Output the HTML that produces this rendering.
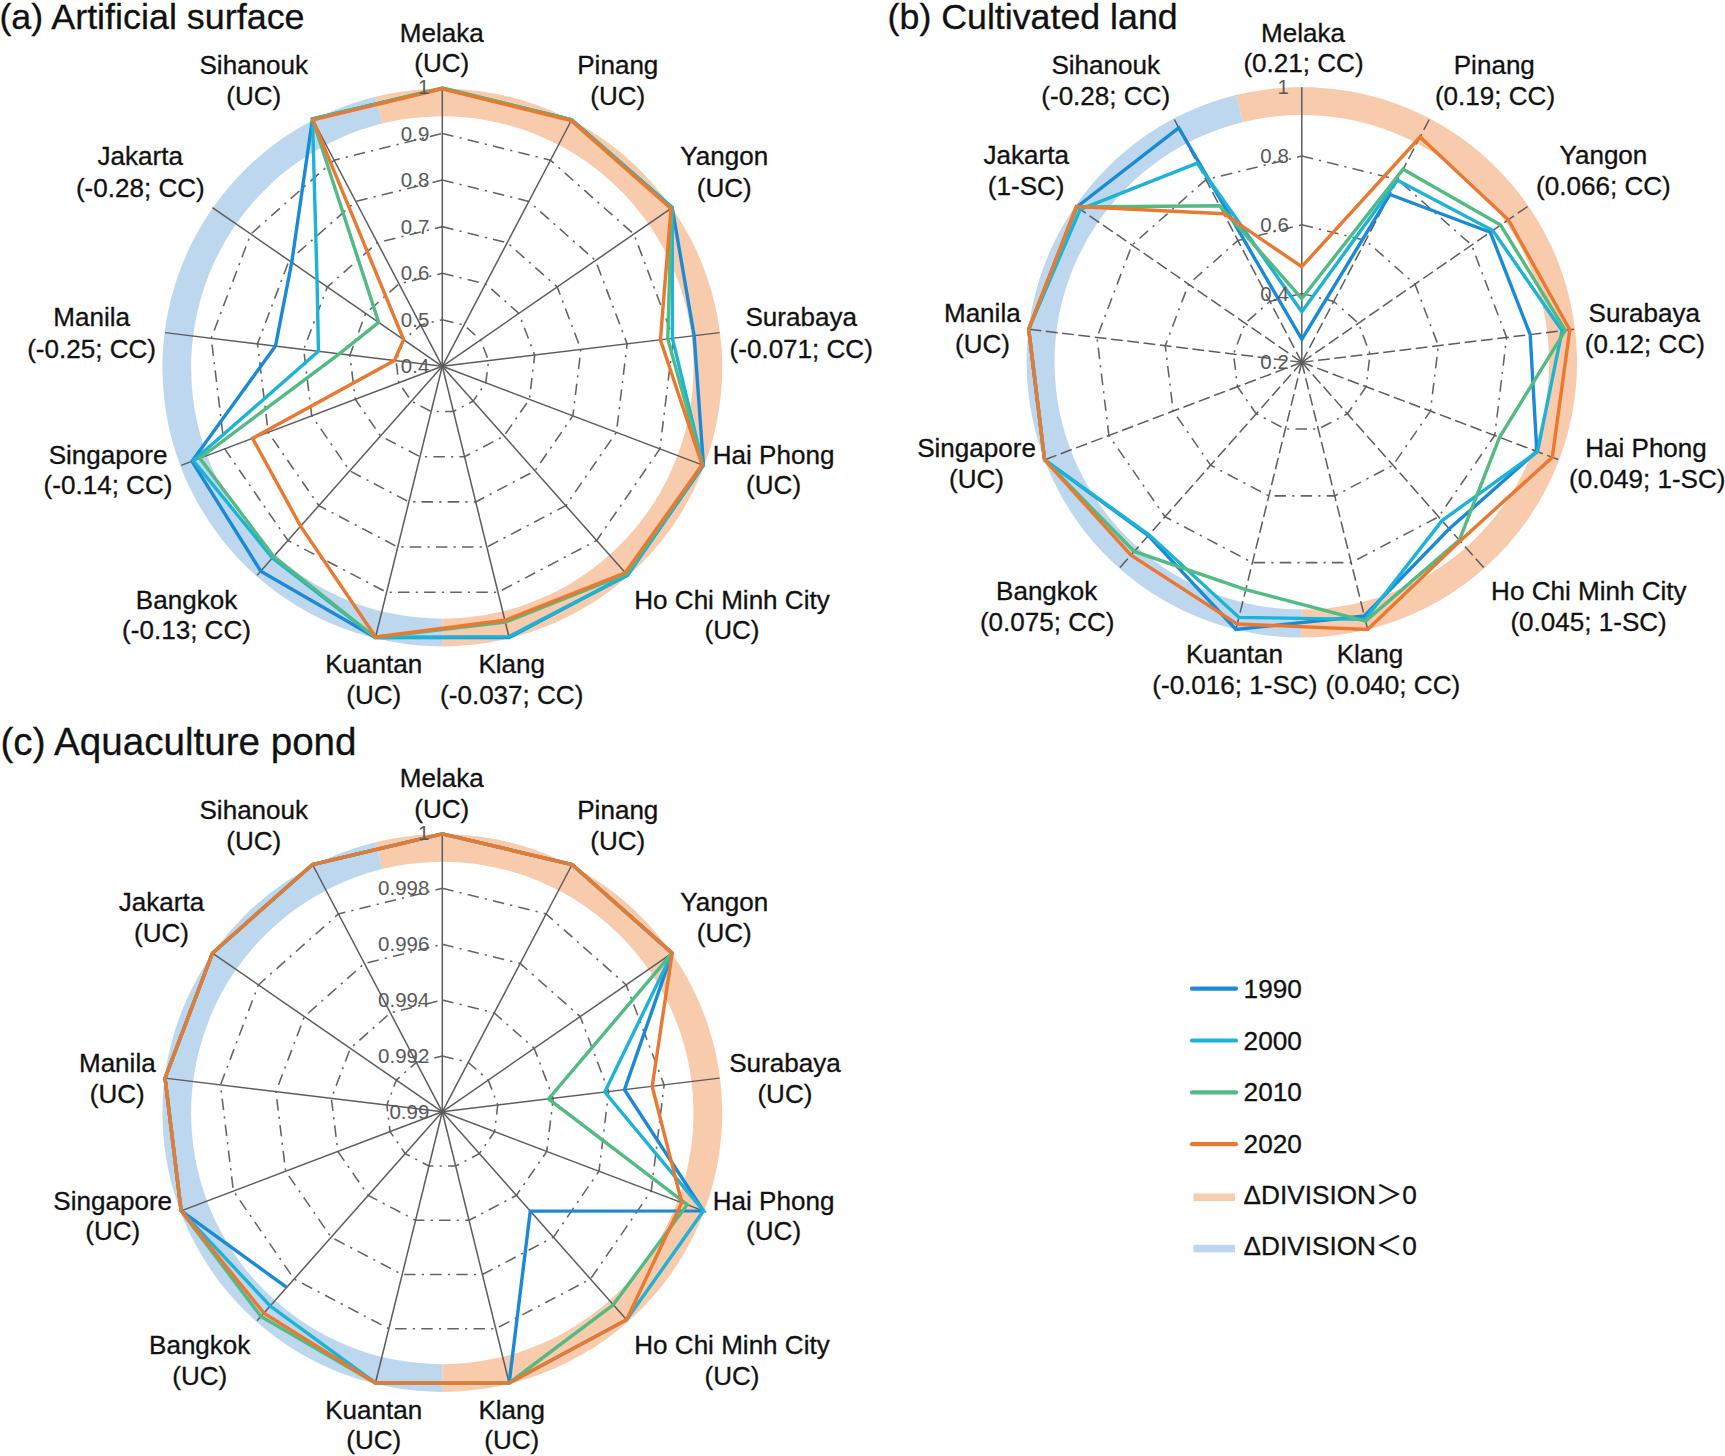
<!DOCTYPE html>
<html><head><meta charset="utf-8"><title>Radar charts</title>
<style>
html,body{margin:0;padding:0;background:#fff;}
svg{display:block;}
text{font-family:"Liberation Sans","Noto Sans CJK SC",sans-serif;}
.lb{fill:#111;stroke:#111;stroke-width:0.3px;}
</style></head>
<body>
<svg width="1725" height="1456" viewBox="0 0 1725 1456">
<rect width="1725" height="1456" fill="#ffffff"/>
<path d="M375.54,96.65 A279.90,278.90 0 1 1 442.30,646.40 L442.30,618.70 A251.20,251.20 0 1 0 382.18,123.60 Z" fill="#F8CBAD"/>
<path d="M442.30,646.40 A279.90,278.90 0 0 1 375.54,96.65 L382.18,123.60 A251.20,251.20 0 0 0 442.30,618.70 Z" fill="#BDD7EE"/>
<polygon points="442.30,319.75 463.93,325.08 480.61,339.86 488.51,360.69 485.83,382.81 473.17,401.14 453.44,411.50 431.16,411.50 411.43,401.14 398.77,382.81 396.09,360.69 403.99,339.86 420.67,325.08" fill="none" stroke="#636363" stroke-width="1.55" stroke-dasharray="11.5 6.2 2.2 6.2"/>
<polygon points="442.30,273.20 485.57,283.86 518.92,313.41 534.72,355.08 529.35,399.31 504.04,435.99 464.58,456.69 420.02,456.69 380.56,435.99 355.25,399.31 349.88,355.08 365.68,313.41 399.03,283.86" fill="none" stroke="#636363" stroke-width="1.55" stroke-dasharray="11.5 6.2 2.2 6.2"/>
<polygon points="442.30,226.65 507.20,242.65 557.23,286.97 580.93,349.47 572.88,415.82 534.91,470.83 475.72,501.89 408.88,501.89 349.69,470.83 311.72,415.82 303.67,349.47 327.37,286.97 377.40,242.65" fill="none" stroke="#636363" stroke-width="1.55" stroke-dasharray="11.5 6.2 2.2 6.2"/>
<polygon points="442.30,180.10 528.83,201.43 595.54,260.53 627.14,343.86 616.40,432.33 565.77,505.67 486.86,547.09 397.74,547.09 318.83,505.67 268.20,432.33 257.46,343.86 289.06,260.53 355.77,201.43" fill="none" stroke="#636363" stroke-width="1.55" stroke-dasharray="11.5 6.2 2.2 6.2"/>
<polygon points="442.30,133.55 550.46,160.21 633.85,234.08 673.35,338.25 659.93,448.83 596.64,540.52 498.00,592.29 386.60,592.29 287.96,540.52 224.67,448.83 211.25,338.25 250.75,234.08 334.14,160.21" fill="none" stroke="#636363" stroke-width="1.55" stroke-dasharray="11.5 6.2 2.2 6.2"/>
<line x1="442.30" y1="366.30" x2="442.30" y2="87.00" stroke="#5c5c5c" stroke-width="1.5"/>
<line x1="442.30" y1="366.30" x2="572.10" y2="118.99" stroke="#5c5c5c" stroke-width="1.5"/>
<line x1="442.30" y1="366.30" x2="672.16" y2="207.64" stroke="#5c5c5c" stroke-width="1.5"/>
<line x1="442.30" y1="366.30" x2="719.56" y2="332.63" stroke="#5c5c5c" stroke-width="1.5"/>
<line x1="442.30" y1="366.30" x2="703.45" y2="465.34" stroke="#5c5c5c" stroke-width="1.5"/>
<line x1="442.30" y1="366.30" x2="627.51" y2="575.36" stroke="#5c5c5c" stroke-width="1.5"/>
<line x1="442.30" y1="366.30" x2="509.14" y2="637.48" stroke="#5c5c5c" stroke-width="1.5"/>
<line x1="442.30" y1="366.30" x2="375.46" y2="637.48" stroke="#5c5c5c" stroke-width="1.5"/>
<line x1="442.30" y1="366.30" x2="257.09" y2="575.36" stroke="#5c5c5c" stroke-width="1.5"/>
<line x1="442.30" y1="366.30" x2="181.15" y2="465.34" stroke="#5c5c5c" stroke-width="1.5"/>
<line x1="442.30" y1="366.30" x2="165.04" y2="332.63" stroke="#5c5c5c" stroke-width="1.5"/>
<line x1="442.30" y1="366.30" x2="212.44" y2="207.64" stroke="#5c5c5c" stroke-width="1.5"/>
<line x1="442.30" y1="366.30" x2="312.50" y2="118.99" stroke="#5c5c5c" stroke-width="1.5"/>
<polygon points="442.30,88.40 571.66,119.82 672.16,207.64 694.15,335.72 703.45,465.34 627.20,575.01 509.14,637.48 375.46,637.48 260.79,571.18 192.03,461.21 275.48,346.04 291.74,262.38 312.50,118.99" fill="none" stroke="#1A8AD6" stroke-width="3.4" stroke-linejoin="miter"/>
<polygon points="442.30,88.40 571.66,119.82 672.16,207.64 672.43,338.36 703.01,465.18 627.51,575.36 508.92,636.58 375.46,637.48 272.52,557.94 193.34,460.72 318.46,351.26 317.03,279.83 312.50,118.99" fill="none" stroke="#1CB3D6" stroke-width="3.4" stroke-linejoin="miter"/>
<polygon points="442.30,87.93 571.66,119.82 671.39,208.17 667.81,338.92 702.58,465.01 626.28,573.97 505.35,622.12 375.46,637.48 273.76,556.54 199.87,458.24 339.25,353.79 378.71,322.40 312.50,118.99" fill="none" stroke="#52BA83" stroke-width="3.4" stroke-linejoin="miter"/>
<polygon points="442.30,88.86 571.23,120.64 671.01,208.43 660.41,339.82 702.14,464.85 625.20,572.75 504.91,620.31 375.57,637.03 300.61,526.23 252.53,438.27 394.47,360.49 403.61,339.59 312.94,119.82" fill="none" stroke="#EA7831" stroke-width="3.4" stroke-linejoin="miter"/>
<text transform="translate(429.3,373.3) scale(0.975,1)" font-size="21" fill="#595959" text-anchor="end">0.4</text>
<text transform="translate(429.3,326.8) scale(0.975,1)" font-size="21" fill="#595959" text-anchor="end">0.5</text>
<text transform="translate(429.3,280.2) scale(0.975,1)" font-size="21" fill="#595959" text-anchor="end">0.6</text>
<text transform="translate(429.3,233.7) scale(0.975,1)" font-size="21" fill="#595959" text-anchor="end">0.7</text>
<text transform="translate(429.3,187.1) scale(0.975,1)" font-size="21" fill="#595959" text-anchor="end">0.8</text>
<text transform="translate(429.3,140.5) scale(0.975,1)" font-size="21" fill="#595959" text-anchor="end">0.9</text>
<text transform="translate(429.3,94.0) scale(0.975,1)" font-size="21" fill="#595959" text-anchor="end">1</text>
<text transform="translate(441.8,41.6) scale(1.03,1)" font-size="25.3" class="lb" text-anchor="middle">Melaka</text>
<text transform="translate(441.8,72.1) scale(1.03,1)" font-size="25.3" class="lb" text-anchor="middle">(UC)</text>
<text transform="translate(617.8,73.8) scale(1.03,1)" font-size="25.3" class="lb" text-anchor="middle">Pinang</text>
<text transform="translate(617.8,104.9) scale(1.03,1)" font-size="25.3" class="lb" text-anchor="middle">(UC)</text>
<text transform="translate(724.2,165.1) scale(1.03,1)" font-size="25.3" class="lb" text-anchor="middle">Yangon</text>
<text transform="translate(724.2,196.7) scale(1.03,1)" font-size="25.3" class="lb" text-anchor="middle">(UC)</text>
<text transform="translate(801.2,326.3) scale(1.03,1)" font-size="25.3" class="lb" text-anchor="middle">Surabaya</text>
<text transform="translate(801.2,357.5) scale(1.03,1)" font-size="25.3" class="lb" text-anchor="middle">(-0.071; CC)</text>
<text transform="translate(773.6,464.0) scale(1.03,1)" font-size="25.3" class="lb" text-anchor="middle">Hai Phong</text>
<text transform="translate(773.6,494.3) scale(1.03,1)" font-size="25.3" class="lb" text-anchor="middle">(UC)</text>
<text transform="translate(732.0,608.8) scale(1.03,1)" font-size="25.3" class="lb" text-anchor="middle">Ho Chi Minh City</text>
<text transform="translate(732.0,639.2) scale(1.03,1)" font-size="25.3" class="lb" text-anchor="middle">(UC)</text>
<text transform="translate(511.7,673.1) scale(1.03,1)" font-size="25.3" class="lb" text-anchor="middle">Klang</text>
<text transform="translate(511.7,703.5) scale(1.03,1)" font-size="25.3" class="lb" text-anchor="middle">(-0.037; CC)</text>
<text transform="translate(373.7,673.1) scale(1.03,1)" font-size="25.3" class="lb" text-anchor="middle">Kuantan</text>
<text transform="translate(373.7,703.5) scale(1.03,1)" font-size="25.3" class="lb" text-anchor="middle">(UC)</text>
<text transform="translate(186.5,608.8) scale(1.03,1)" font-size="25.3" class="lb" text-anchor="middle">Bangkok</text>
<text transform="translate(186.5,639.2) scale(1.03,1)" font-size="25.3" class="lb" text-anchor="middle">(-0.13; CC)</text>
<text transform="translate(108.0,464.0) scale(1.03,1)" font-size="25.3" class="lb" text-anchor="middle">Singapore</text>
<text transform="translate(108.0,494.3) scale(1.03,1)" font-size="25.3" class="lb" text-anchor="middle">(-0.14; CC)</text>
<text transform="translate(91.6,326.3) scale(1.03,1)" font-size="25.3" class="lb" text-anchor="middle">Manila</text>
<text transform="translate(91.6,357.5) scale(1.03,1)" font-size="25.3" class="lb" text-anchor="middle">(-0.25; CC)</text>
<text transform="translate(140.3,165.1) scale(1.03,1)" font-size="25.3" class="lb" text-anchor="middle">Jakarta</text>
<text transform="translate(140.3,196.7) scale(1.03,1)" font-size="25.3" class="lb" text-anchor="middle">(-0.28; CC)</text>
<text transform="translate(253.8,73.8) scale(1.03,1)" font-size="25.3" class="lb" text-anchor="middle">Sihanouk</text>
<text transform="translate(253.8,104.9) scale(1.03,1)" font-size="25.3" class="lb" text-anchor="middle">(UC)</text>
<path d="M1235.94,95.10 A275.20,275.20 0 1 1 1301.80,637.50 L1301.80,609.60 A247.30,247.30 0 1 0 1242.62,122.19 Z" fill="#F8CBAD"/>
<path d="M1301.80,637.50 A275.20,275.20 0 0 1 1235.94,95.10 L1242.62,122.19 A247.30,247.30 0 0 0 1301.80,609.60 Z" fill="#BDD7EE"/>
<polygon points="1301.80,293.52 1333.76,301.40 1358.40,323.23 1370.07,354.01 1366.11,386.69 1347.41,413.78 1318.26,429.08 1285.34,429.08 1256.19,413.78 1237.49,386.69 1233.53,354.01 1245.20,323.23 1269.84,301.40" fill="none" stroke="#636363" stroke-width="1.55" stroke-dasharray="11.5 6.2 2.2 6.2"/>
<polygon points="1301.80,224.75 1365.72,240.51 1415.00,284.16 1438.35,345.72 1430.41,411.08 1393.01,465.26 1334.72,495.85 1268.88,495.85 1210.59,465.26 1173.19,411.08 1165.25,345.72 1188.60,284.16 1237.88,240.51" fill="none" stroke="#636363" stroke-width="1.55" stroke-dasharray="11.5 6.2 2.2 6.2"/>
<polygon points="1301.80,155.97 1397.68,179.61 1471.60,245.09 1506.62,337.43 1494.72,435.46 1438.62,516.74 1351.18,562.63 1252.42,562.63 1164.98,516.74 1108.88,435.46 1096.98,337.43 1132.00,245.09 1205.92,179.61" fill="none" stroke="#636363" stroke-width="1.55" stroke-dasharray="11.5 6.2 2.2 6.2"/>
<line x1="1301.80" y1="362.30" x2="1301.80" y2="87.20" stroke="#5c5c5c" stroke-width="1.5"/>
<line x1="1301.80" y1="362.30" x2="1429.65" y2="118.71" stroke="#5c5c5c" stroke-width="1.5" stroke-dasharray="11.8 4.6"/>
<line x1="1301.80" y1="362.30" x2="1528.20" y2="206.03" stroke="#5c5c5c" stroke-width="1.5" stroke-dasharray="11.8 4.6"/>
<line x1="1301.80" y1="362.30" x2="1574.89" y2="329.14" stroke="#5c5c5c" stroke-width="1.5" stroke-dasharray="11.8 4.6"/>
<line x1="1301.80" y1="362.30" x2="1559.02" y2="459.85" stroke="#5c5c5c" stroke-width="1.5" stroke-dasharray="11.8 4.6"/>
<line x1="1301.80" y1="362.30" x2="1484.23" y2="568.22" stroke="#5c5c5c" stroke-width="1.5" stroke-dasharray="11.8 4.6"/>
<line x1="1301.80" y1="362.30" x2="1367.64" y2="629.41" stroke="#5c5c5c" stroke-width="1.5" stroke-dasharray="11.8 4.6"/>
<line x1="1301.80" y1="362.30" x2="1235.96" y2="629.41" stroke="#5c5c5c" stroke-width="1.5" stroke-dasharray="11.8 4.6"/>
<line x1="1301.80" y1="362.30" x2="1119.37" y2="568.22" stroke="#5c5c5c" stroke-width="1.5" stroke-dasharray="11.8 4.6"/>
<line x1="1301.80" y1="362.30" x2="1044.58" y2="459.85" stroke="#5c5c5c" stroke-width="1.5" stroke-dasharray="11.8 4.6"/>
<line x1="1301.80" y1="362.30" x2="1028.71" y2="329.14" stroke="#5c5c5c" stroke-width="1.5" stroke-dasharray="11.8 4.6"/>
<line x1="1301.80" y1="362.30" x2="1075.40" y2="206.03" stroke="#5c5c5c" stroke-width="1.5" stroke-dasharray="11.8 4.6"/>
<line x1="1301.80" y1="362.30" x2="1173.95" y2="118.71" stroke="#5c5c5c" stroke-width="1.5" stroke-dasharray="11.8 4.6"/>
<polygon points="1301.80,339.26 1389.85,194.53 1490.28,232.20 1530.18,334.57 1536.84,451.44 1449.34,528.83 1364.34,616.05 1235.96,629.41 1148.33,535.53 1044.58,459.85 1028.71,329.14 1076.81,207.00 1178.75,127.85" fill="none" stroke="#1A8AD6" stroke-width="3.4" stroke-linejoin="miter"/>
<polygon points="1301.80,311.75 1397.36,180.22 1492.83,230.44 1562.09,330.69 1537.48,451.68 1442.04,520.60 1365.17,619.39 1238.93,617.39 1149.02,534.75 1044.58,459.85 1028.71,329.14 1080.21,209.35 1197.29,163.17" fill="none" stroke="#1CB3D6" stroke-width="3.4" stroke-linejoin="miter"/>
<polygon points="1301.80,298.51 1403.12,169.26 1500.61,225.07 1565.34,330.30 1499.54,437.29 1459.37,540.16 1365.58,621.06 1245.76,589.67 1134.20,551.48 1044.58,459.85 1028.71,329.14 1076.81,207.00 1219.66,205.79" fill="none" stroke="#52BA83" stroke-width="3.4" stroke-linejoin="miter"/>
<polygon points="1301.80,266.70 1420.06,136.98 1508.39,219.70 1569.77,329.76 1552.27,457.29 1460.05,540.93 1367.64,629.41 1237.28,624.06 1131.00,555.09 1044.58,459.85 1028.71,329.14 1076.25,206.61 1223.81,213.71" fill="none" stroke="#EA7831" stroke-width="3.4" stroke-linejoin="miter"/>
<text transform="translate(1288.8,369.3) scale(0.975,1)" font-size="21" fill="#595959" text-anchor="end">0.2</text>
<text transform="translate(1288.8,300.5) scale(0.975,1)" font-size="21" fill="#595959" text-anchor="end">0.4</text>
<text transform="translate(1288.8,231.8) scale(0.975,1)" font-size="21" fill="#595959" text-anchor="end">0.6</text>
<text transform="translate(1288.8,163.0) scale(0.975,1)" font-size="21" fill="#595959" text-anchor="end">0.8</text>
<text transform="translate(1288.8,94.2) scale(0.975,1)" font-size="21" fill="#595959" text-anchor="end">1</text>
<text transform="translate(1303.0,41.9) scale(1.03,1)" font-size="25.3" class="lb" text-anchor="middle">Melaka</text>
<text transform="translate(1303.5,72.2) scale(1.03,1)" font-size="25.3" class="lb" text-anchor="middle">(0.21; CC)</text>
<text transform="translate(1494.3,73.5) scale(1.03,1)" font-size="25.3" class="lb" text-anchor="middle">Pinang</text>
<text transform="translate(1495.0,104.8) scale(1.03,1)" font-size="25.3" class="lb" text-anchor="middle">(0.19; CC)</text>
<text transform="translate(1603.4,163.8) scale(1.03,1)" font-size="25.3" class="lb" text-anchor="middle">Yangon</text>
<text transform="translate(1603.4,195.0) scale(1.03,1)" font-size="25.3" class="lb" text-anchor="middle">(0.066; CC)</text>
<text transform="translate(1644.3,321.7) scale(1.03,1)" font-size="25.3" class="lb" text-anchor="middle">Surabaya</text>
<text transform="translate(1644.8,353.0) scale(1.03,1)" font-size="25.3" class="lb" text-anchor="middle">(0.12; CC)</text>
<text transform="translate(1646.0,457.1) scale(1.03,1)" font-size="25.3" class="lb" text-anchor="middle">Hai Phong</text>
<text transform="translate(1647.3,487.9) scale(1.03,1)" font-size="25.3" class="lb" text-anchor="middle">(0.049; 1-SC)</text>
<text transform="translate(1588.8,600.0) scale(1.03,1)" font-size="25.3" class="lb" text-anchor="middle">Ho Chi Minh City</text>
<text transform="translate(1588.6,631.3) scale(1.03,1)" font-size="25.3" class="lb" text-anchor="middle">(0.045; 1-SC)</text>
<text transform="translate(1370.0,662.7) scale(1.03,1)" font-size="25.3" class="lb" text-anchor="middle">Klang</text>
<text transform="translate(1392.8,693.9) scale(1.03,1)" font-size="25.3" class="lb" text-anchor="middle">(0.040; CC)</text>
<text transform="translate(1234.5,662.7) scale(1.03,1)" font-size="25.3" class="lb" text-anchor="middle">Kuantan</text>
<text transform="translate(1234.8,693.9) scale(1.03,1)" font-size="25.3" class="lb" text-anchor="middle">(-0.016; 1-SC)</text>
<text transform="translate(1046.7,600.0) scale(1.03,1)" font-size="25.3" class="lb" text-anchor="middle">Bangkok</text>
<text transform="translate(1047.2,631.3) scale(1.03,1)" font-size="25.3" class="lb" text-anchor="middle">(0.075; CC)</text>
<text transform="translate(976.5,457.1) scale(1.03,1)" font-size="25.3" class="lb" text-anchor="middle">Singapore</text>
<text transform="translate(976.5,487.9) scale(1.03,1)" font-size="25.3" class="lb" text-anchor="middle">(UC)</text>
<text transform="translate(982.3,321.7) scale(1.03,1)" font-size="25.3" class="lb" text-anchor="middle">Manila</text>
<text transform="translate(982.5,353.0) scale(1.03,1)" font-size="25.3" class="lb" text-anchor="middle">(UC)</text>
<text transform="translate(1026.2,163.8) scale(1.03,1)" font-size="25.3" class="lb" text-anchor="middle">Jakarta</text>
<text transform="translate(1026.2,195.0) scale(1.03,1)" font-size="25.3" class="lb" text-anchor="middle">(1-SC)</text>
<text transform="translate(1105.7,73.5) scale(1.03,1)" font-size="25.3" class="lb" text-anchor="middle">Sihanouk</text>
<text transform="translate(1105.7,104.8) scale(1.03,1)" font-size="25.3" class="lb" text-anchor="middle">(-0.28; CC)</text>
<path d="M375.54,842.15 A279.90,278.90 0 1 1 442.30,1391.90 L442.30,1364.20 A251.20,251.20 0 1 0 382.18,869.10 Z" fill="#F8CBAD"/>
<path d="M442.30,1391.90 A279.90,278.90 0 0 1 375.54,842.15 L382.18,869.10 A251.20,251.20 0 0 0 442.30,1364.20 Z" fill="#BDD7EE"/>
<polygon points="442.30,1055.94 468.26,1062.34 488.27,1080.07 497.75,1105.07 494.53,1131.61 479.34,1153.61 455.67,1166.04 428.93,1166.04 405.26,1153.61 390.07,1131.61 386.85,1105.07 396.33,1080.07 416.34,1062.34" fill="none" stroke="#636363" stroke-width="1.55" stroke-dasharray="11.5 6.2 2.2 6.2"/>
<polygon points="442.30,1000.08 494.22,1012.88 534.24,1048.34 553.21,1098.33 546.76,1151.42 516.38,1195.42 469.04,1220.27 415.56,1220.27 368.22,1195.42 337.84,1151.42 331.39,1098.33 350.36,1048.34 390.38,1012.88" fill="none" stroke="#636363" stroke-width="1.55" stroke-dasharray="11.5 6.2 2.2 6.2"/>
<polygon points="442.30,944.22 520.18,963.42 580.22,1016.60 608.66,1091.60 598.99,1171.22 553.43,1237.24 482.40,1274.51 402.20,1274.51 331.17,1237.24 285.61,1171.22 275.94,1091.60 304.38,1016.60 364.42,963.42" fill="none" stroke="#636363" stroke-width="1.55" stroke-dasharray="11.5 6.2 2.2 6.2"/>
<polygon points="442.30,888.36 546.14,913.95 626.19,984.87 664.11,1084.87 651.22,1191.03 590.47,1279.05 495.77,1328.75 388.83,1328.75 294.13,1279.05 233.38,1191.03 220.49,1084.87 258.41,984.87 338.46,913.95" fill="none" stroke="#636363" stroke-width="1.55" stroke-dasharray="11.5 6.2 2.2 6.2"/>
<line x1="442.30" y1="1111.80" x2="442.30" y2="832.50" stroke="#5c5c5c" stroke-width="1.5"/>
<line x1="442.30" y1="1111.80" x2="572.10" y2="864.49" stroke="#5c5c5c" stroke-width="1.5"/>
<line x1="442.30" y1="1111.80" x2="672.16" y2="953.14" stroke="#5c5c5c" stroke-width="1.5"/>
<line x1="442.30" y1="1111.80" x2="719.56" y2="1078.13" stroke="#5c5c5c" stroke-width="1.5"/>
<line x1="442.30" y1="1111.80" x2="703.45" y2="1210.84" stroke="#5c5c5c" stroke-width="1.5"/>
<line x1="442.30" y1="1111.80" x2="627.51" y2="1320.86" stroke="#5c5c5c" stroke-width="1.5"/>
<line x1="442.30" y1="1111.80" x2="509.14" y2="1382.98" stroke="#5c5c5c" stroke-width="1.5"/>
<line x1="442.30" y1="1111.80" x2="375.46" y2="1382.98" stroke="#5c5c5c" stroke-width="1.5"/>
<line x1="442.30" y1="1111.80" x2="257.09" y2="1320.86" stroke="#5c5c5c" stroke-width="1.5"/>
<line x1="442.30" y1="1111.80" x2="181.15" y2="1210.84" stroke="#5c5c5c" stroke-width="1.5"/>
<line x1="442.30" y1="1111.80" x2="165.04" y2="1078.13" stroke="#5c5c5c" stroke-width="1.5"/>
<line x1="442.30" y1="1111.80" x2="212.44" y2="953.14" stroke="#5c5c5c" stroke-width="1.5"/>
<line x1="442.30" y1="1111.80" x2="312.50" y2="864.49" stroke="#5c5c5c" stroke-width="1.5"/>
<polyline points="442.30,833.90 572.10,864.49 672.16,953.14 624.46,1089.68 703.45,1210.84 530.27,1211.10 509.14,1382.98" fill="none" stroke="#1A8AD6" stroke-width="3.4" stroke-linejoin="miter"/>
<polyline points="286.72,1287.41 181.15,1210.84 165.04,1078.13 212.44,953.14 312.50,864.49 442.30,833.90" fill="none" stroke="#1A8AD6" stroke-width="3.4" stroke-linejoin="miter"/>
<polygon points="442.30,833.90 572.10,864.49 672.16,953.14 604.78,1092.07 703.45,1210.84 626.58,1319.81 509.14,1382.98 375.46,1382.98 270.24,1306.02 181.15,1210.84 165.04,1078.13 212.44,953.14 312.50,864.49" fill="none" stroke="#1CB3D6" stroke-width="3.4" stroke-linejoin="miter"/>
<polygon points="442.30,833.90 572.10,864.49 672.16,953.14 548.49,1098.91 687.26,1204.70 613.25,1304.76 509.14,1382.98 375.46,1382.98 260.98,1316.47 181.15,1210.84 165.04,1078.13 212.44,953.14 312.50,864.49" fill="none" stroke="#52BA83" stroke-width="3.4" stroke-linejoin="miter"/>
<polygon points="442.30,833.90 572.10,864.49 672.16,953.14 652.19,1086.31 681.77,1202.62 626.58,1319.81 509.14,1382.98 375.46,1382.98 263.94,1313.12 181.15,1210.84 165.04,1078.13 212.44,953.14 312.50,864.49" fill="none" stroke="#EA7831" stroke-width="3.4" stroke-linejoin="miter"/>
<text transform="translate(429.3,1118.8) scale(0.975,1)" font-size="21" fill="#595959" text-anchor="end">0.99</text>
<text transform="translate(429.3,1062.9) scale(0.975,1)" font-size="21" fill="#595959" text-anchor="end">0.992</text>
<text transform="translate(429.3,1007.1) scale(0.975,1)" font-size="21" fill="#595959" text-anchor="end">0.994</text>
<text transform="translate(429.3,951.2) scale(0.975,1)" font-size="21" fill="#595959" text-anchor="end">0.996</text>
<text transform="translate(429.3,895.4) scale(0.975,1)" font-size="21" fill="#595959" text-anchor="end">0.998</text>
<text transform="translate(429.3,839.5) scale(0.975,1)" font-size="21" fill="#595959" text-anchor="end">1</text>
<text transform="translate(441.8,787.1) scale(1.03,1)" font-size="25.3" class="lb" text-anchor="middle">Melaka</text>
<text transform="translate(441.8,817.6) scale(1.03,1)" font-size="25.3" class="lb" text-anchor="middle">(UC)</text>
<text transform="translate(617.8,819.3) scale(1.03,1)" font-size="25.3" class="lb" text-anchor="middle">Pinang</text>
<text transform="translate(617.8,850.4) scale(1.03,1)" font-size="25.3" class="lb" text-anchor="middle">(UC)</text>
<text transform="translate(724.2,910.6) scale(1.03,1)" font-size="25.3" class="lb" text-anchor="middle">Yangon</text>
<text transform="translate(724.2,942.2) scale(1.03,1)" font-size="25.3" class="lb" text-anchor="middle">(UC)</text>
<text transform="translate(784.9,1071.8) scale(1.03,1)" font-size="25.3" class="lb" text-anchor="middle">Surabaya</text>
<text transform="translate(784.9,1103.0) scale(1.03,1)" font-size="25.3" class="lb" text-anchor="middle">(UC)</text>
<text transform="translate(773.6,1209.5) scale(1.03,1)" font-size="25.3" class="lb" text-anchor="middle">Hai Phong</text>
<text transform="translate(773.6,1239.8) scale(1.03,1)" font-size="25.3" class="lb" text-anchor="middle">(UC)</text>
<text transform="translate(732.0,1354.3) scale(1.03,1)" font-size="25.3" class="lb" text-anchor="middle">Ho Chi Minh City</text>
<text transform="translate(732.0,1384.7) scale(1.03,1)" font-size="25.3" class="lb" text-anchor="middle">(UC)</text>
<text transform="translate(511.7,1418.6) scale(1.03,1)" font-size="25.3" class="lb" text-anchor="middle">Klang</text>
<text transform="translate(511.7,1449.0) scale(1.03,1)" font-size="25.3" class="lb" text-anchor="middle">(UC)</text>
<text transform="translate(373.7,1418.6) scale(1.03,1)" font-size="25.3" class="lb" text-anchor="middle">Kuantan</text>
<text transform="translate(373.7,1449.0) scale(1.03,1)" font-size="25.3" class="lb" text-anchor="middle">(UC)</text>
<text transform="translate(199.7,1354.3) scale(1.03,1)" font-size="25.3" class="lb" text-anchor="middle">Bangkok</text>
<text transform="translate(199.7,1384.7) scale(1.03,1)" font-size="25.3" class="lb" text-anchor="middle">(UC)</text>
<text transform="translate(112.7,1209.5) scale(1.03,1)" font-size="25.3" class="lb" text-anchor="middle">Singapore</text>
<text transform="translate(112.7,1239.8) scale(1.03,1)" font-size="25.3" class="lb" text-anchor="middle">(UC)</text>
<text transform="translate(117.3,1071.8) scale(1.03,1)" font-size="25.3" class="lb" text-anchor="middle">Manila</text>
<text transform="translate(117.3,1103.0) scale(1.03,1)" font-size="25.3" class="lb" text-anchor="middle">(UC)</text>
<text transform="translate(161.5,910.6) scale(1.03,1)" font-size="25.3" class="lb" text-anchor="middle">Jakarta</text>
<text transform="translate(161.5,942.2) scale(1.03,1)" font-size="25.3" class="lb" text-anchor="middle">(UC)</text>
<text transform="translate(253.8,819.3) scale(1.03,1)" font-size="25.3" class="lb" text-anchor="middle">Sihanouk</text>
<text transform="translate(253.8,850.4) scale(1.03,1)" font-size="25.3" class="lb" text-anchor="middle">(UC)</text>
<text x="-0.6" y="28.8" font-size="35.9" class="lb">(a) Artificial surface</text>
<text x="887.6" y="28.8" font-size="35.75" class="lb">(b) Cultivated land</text>
<text x="0.5" y="755.3" font-size="38.6" class="lb">(c) Aquaculture pond</text>
<line x1="1192" y1="988.7" x2="1236" y2="988.7" stroke="#1A8AD6" stroke-width="4.2" stroke-linecap="round"/>
<text x="1243.6" y="997.7" font-size="26.2" class="lb">1990</text>
<line x1="1192" y1="1040.5" x2="1236" y2="1040.5" stroke="#1CB3D6" stroke-width="4.2" stroke-linecap="round"/>
<text x="1243.6" y="1049.5" font-size="26.2" class="lb">2000</text>
<line x1="1192" y1="1092.4" x2="1236" y2="1092.4" stroke="#52BA83" stroke-width="4.2" stroke-linecap="round"/>
<text x="1243.6" y="1101.4" font-size="26.2" class="lb">2010</text>
<line x1="1192" y1="1144.2" x2="1236" y2="1144.2" stroke="#EA7831" stroke-width="4.2" stroke-linecap="round"/>
<text x="1243.6" y="1153.2" font-size="26.2" class="lb">2020</text>
<rect x="1193.5" y="1193.5" width="41.5" height="7.5" fill="#F8CBAD"/>
<rect x="1193.5" y="1244.8" width="41.5" height="7.5" fill="#BDD7EE"/>
<text x="1243.5" y="1203.7" font-size="26.2" class="lb">ΔDIVISION＞0</text>
<text x="1243.5" y="1255.2" font-size="26.2" class="lb">ΔDIVISION＜0</text>
</svg>
</body></html>
